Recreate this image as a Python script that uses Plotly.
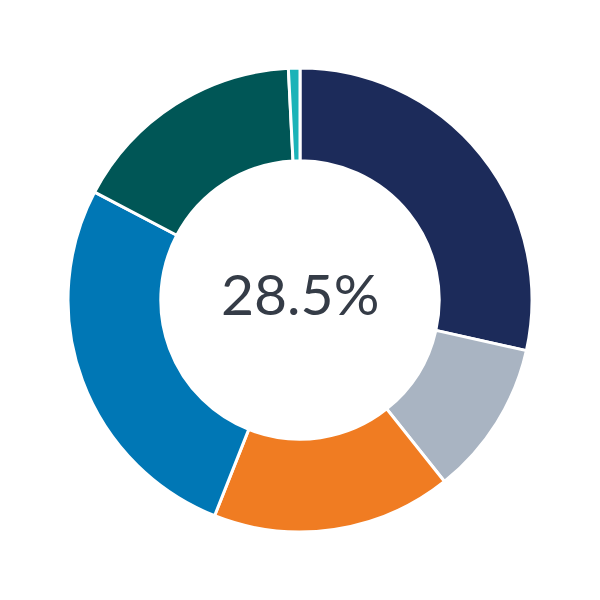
import plotly.graph_objects as go

labels = ["Segment A", "Segment B", "Segment C", "Segment D", "Segment E", "Segment F"]
values = [28.5, 10.8, 16.7, 26.7, 16.5, 0.8]
colors = ["#1c2b5a", "#a9b4c2", "#f07c22", "#0077b5", "#005656", "#1bb3b8"]
center_text = "28.5%"

fig = go.Figure(go.Pie(
    labels=labels,
    values=values,
    hole=0.6,
    sort=False,
    direction="clockwise",
    rotation=0,
    marker=dict(colors=colors, line=dict(color="white", width=3)),
    textinfo="none",
    hoverinfo="label+percent",
))
fig.add_annotation(text=center_text, x=0.5, y=0.5, xref="paper", yref="paper",
                   showarrow=False, yshift=7,
                   font=dict(family="Lato", size=57, color="#353c47"))
fig.update_layout(width=600, height=600, showlegend=False,
                  margin=dict(l=60, r=76, t=60, b=76),
                  paper_bgcolor="white", plot_bgcolor="white")
fig.write_html("out.html")
